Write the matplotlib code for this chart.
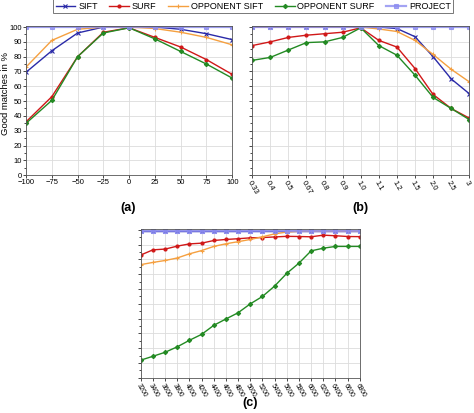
import numpy as np
import matplotlib
matplotlib.use("Agg")
import matplotlib.pyplot as plt
from matplotlib.ticker import MultipleLocator

plt.rcParams['font.family'] = ['Liberation Sans', 'DejaVu Sans']

series = ["SIFT", "SURF", "OPPONENT SIFT", "OPPONENT SURF", "PROJECT"]
colors = ["#2a2aa8", "#d01818", "#f5a040", "#238a23", "#8c8cf0"]
markers = ["x", "o", "+", "D", "s"]

# (a) rotation in degrees
rot_x = [-100, -75, -50, -25, 0, 25, 50, 75, 100]
rot_sift = [69.5, 84, 96, 100, 100, 100, 98.5, 95.5, 91.5]
rot_surf = [36, 53, 80, 96.5, 99.5, 93, 86.5, 78, 68]
rot_osift = [73, 91, 98.5, 100, 100, 99, 96.5, 93, 88]
rot_osurf = [35, 50.5, 80, 96, 99.5, 92, 83.5, 75, 65.5]
rot_proj = [100] * 9

# (b) scale factor
scale_labels = ["0.33", "0.4", "0.5", "0.67", "0.8", "0.9", "1.0", "1.1", "1.2", "1.5", "2.0", "2.5", "3"]
scale_sift = [100, 100, 100, 100, 100, 100, 100, 100, 99, 93.5, 80, 65, 55]
scale_surf = [87.5, 90, 93, 94.5, 95.5, 96.5, 99.5, 91, 86.5, 72, 54.5, 45, 38.5]
scale_osift = [100, 100, 100, 100, 100, 100, 100, 98.7, 97, 91, 81.5, 71.5, 63]
scale_osurf = [77.5, 79.5, 84.5, 89.5, 90, 93, 99.5, 87.5, 81, 67.5, 52.5, 45, 37.5]
scale_proj = [100] * 13

# (c) image width
width_x = list(range(3200, 6801, 200))
width_sift = [99] * 19
width_surf = [83, 86.5, 87, 89, 90.5, 91, 92.8, 93.5, 94, 94.6, 94.8, 95.2, 95.6, 95.5, 95.3, 96.4, 96, 95.5, 95.4]
width_osift = [76.5, 78, 79.3, 81, 83.8, 86, 88.8, 90.6, 92, 93.5, 95.3, 97.3, 98.5, 99, 99, 99, 99, 99, 99]
width_osurf = [12, 14.6, 17.3, 21, 25.4, 29.4, 35.5, 39.8, 44, 50, 55, 62, 70.6, 77.5, 85.8, 87.6, 88.8, 88.8, 88.8]
width_proj = [99.2] * 19

fig = plt.figure(figsize=(4.74, 4.13), dpi=100)
ax_a = fig.add_axes([0.055, 0.576, 0.435, 0.361])
ax_b = fig.add_axes([0.532, 0.576, 0.458, 0.361])
ax_c = fig.add_axes([0.297, 0.085, 0.462, 0.361])


def draw(ax, x, ys):
    lines = []
    for y, c, m, name in zip(ys, colors, markers, series):
        lw = 1.6 if name == "PROJECT" else 1.0
        alpha = 0.8 if name == "PROJECT" else 1.0
        ms = 2.2 if m in ("o", "D", "s") else 3.2
        ln, = ax.plot(x, y, color=c, marker=m, markersize=ms, lw=lw, alpha=alpha,
                      markeredgewidth=0.8, label=name)
        lines.append(ln)
    ax.set_ylim(0, 100.7)
    ax.yaxis.set_major_locator(MultipleLocator(10))
    ax.yaxis.set_minor_locator(MultipleLocator(5))
    ax.grid(True, color="#dcdcdc", lw=0.6)
    ax.set_axisbelow(True)
    ax.tick_params(labelsize=5.5, length=2, width=0.5, pad=1)
    ax.tick_params(which="minor", length=1.5, width=0.5)
    for s in ax.spines.values():
        s.set_linewidth(0.6)
        s.set_color("#555555")
    return lines


lines = draw(ax_a, rot_x, [rot_sift, rot_surf, rot_osift, rot_osurf, rot_proj])
ax_a.set_xlim(-100, 100)
ax_a.set_xticks(rot_x)
ax_a.set_ylabel("Good matches in %", fontsize=6.8)
ax_a.yaxis.set_label_coords(-0.078, 0.55)

bx = np.arange(len(scale_labels))
draw(ax_b, bx, [scale_sift, scale_surf, scale_osift, scale_osurf, scale_proj])
ax_b.set_xlim(0, len(scale_labels) - 1)
ax_b.set_xticks(bx)
ax_b.set_xticklabels(scale_labels, rotation=-60, ha="left", va="top", rotation_mode="anchor")
ax_b.tick_params(axis="y", labelleft=False)

draw(ax_c, width_x, [width_sift, width_surf, width_osift, width_osurf, width_proj])
ax_c.set_xlim(3200, 6800)
ax_c.set_xticks(width_x)
ax_c.set_xticklabels([str(v) for v in width_x], rotation=-60, ha="left", va="top",
                     rotation_mode="anchor", fontsize=4.8)
ax_c.tick_params(axis="y", labelleft=False)

fig.text(0.27, 0.496, "(a)", fontsize=9, fontweight="bold", ha="center", va="center")
fig.text(0.76, 0.496, "(b)", fontsize=9, fontweight="bold", ha="center", va="center")
fig.text(0.528, 0.024, "(c)", fontsize=9, fontweight="bold", ha="center", va="center")

leg = fig.legend(lines, series, loc="center", bbox_to_anchor=(0.534, 0.985), ncol=5,
                 fontsize=6.5, frameon=True, fancybox=False, edgecolor="#555555",
                 handlelength=2.2, columnspacing=1.3, handletextpad=0.3,
                 borderpad=0.3)
leg.get_frame().set_linewidth(0.7)

fig.savefig("out.png", dpi=100)
